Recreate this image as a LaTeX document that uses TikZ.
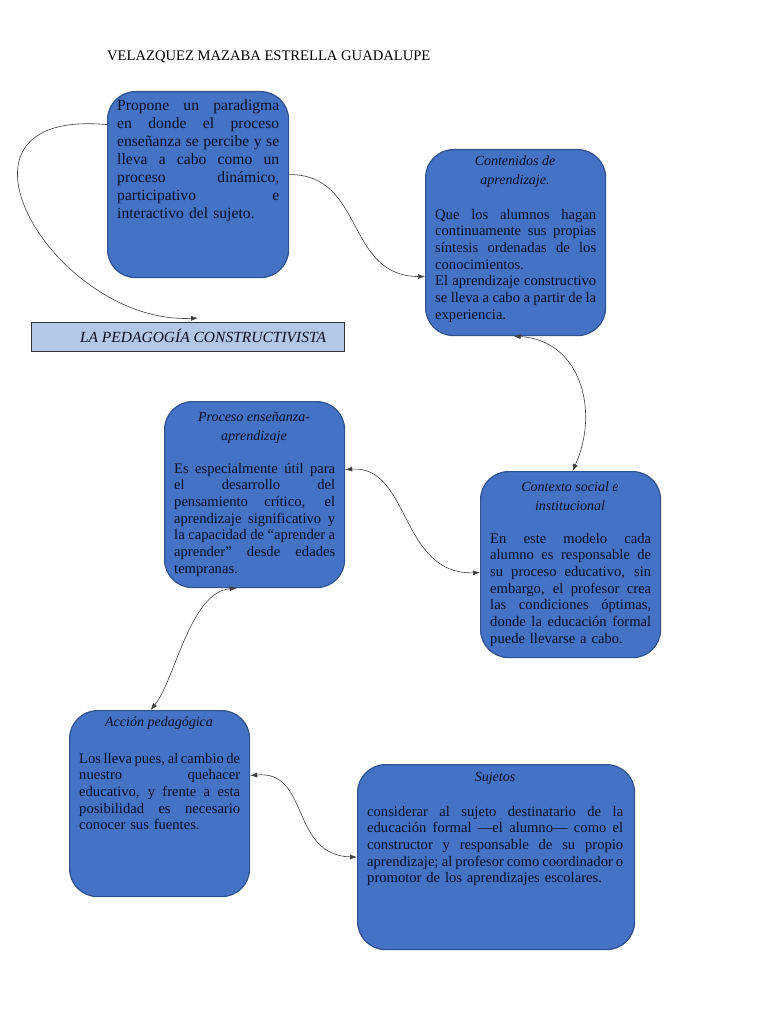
\documentclass[tikz,border=0pt]{standalone}
\usepackage{fontspec}
\setmainfont{Liberation Serif}
\usetikzlibrary{arrows.meta}
\definecolor{boxblue}{HTML}{4472C4}
\definecolor{boxline}{HTML}{2F528F}
\definecolor{titlefill}{HTML}{B4C7E7}
\definecolor{inkc}{HTML}{0B0F26}
\newdimen\jw
\newcommand{\jl}[1]{\leavevmode\hbox to\jw{\spaceskip=0pt\xspaceskip=0pt #1}\\}
\begin{document}
\begin{tikzpicture}[x=1pt,y=-1pt,
  card/.style={draw=boxline, fill=boxblue, line width=1.2pt, rounded corners=28pt, inner sep=0pt, anchor=north west},
  body/.style={anchor=base west, inner sep=0pt, align=left, text=inkc, font=\fontsize{14.6}{16.7}\selectfont},
  ttl/.style={anchor=base, inner sep=0pt, align=center, text=inkc, font=\fontsize{14}{19}\selectfont\itshape},
  link/.style={line width=0.6pt, draw=black!75, -{Latex[length=7pt,width=5pt]}},
  blink/.style={line width=0.6pt, draw=black!75, {Latex[length=7pt,width=5pt]}-{Latex[length=7pt,width=5pt]}}
]
\useasboundingbox[fill=white] (0,0) rectangle (768,1024);

\node[anchor=base west, inner sep=0pt, font=\fontsize{14.6}{16}\selectfont] (hdr) at (107,61) {VELAZQUEZ MAZABA ESTRELLA GUADALUPE};

% boxes
\node[card, minimum width=181pt, minimum height=186pt] (a) at (107,91) {};
\node[card, minimum width=180pt, minimum height=186pt] (b) at (425,149) {};
\node[card, minimum width=180pt, minimum height=186pt] (c) at (164,401) {};
\node[card, minimum width=180pt, minimum height=186pt] (d) at (480,471) {};
\node[card, minimum width=180pt, minimum height=186pt] (e) at (69,710) {};
\node[card, minimum width=277pt, minimum height=185pt] (f) at (357,764) {};

\node[draw=black!80, fill=titlefill, line width=0.9pt, minimum width=313pt, minimum height=29pt, inner sep=0pt, anchor=north west] (t) at (31,322) {};
\node[ttl, font=\fontsize{15.5}{16}\selectfont\itshape] (tt) at (203,342) {LA PEDAGOGÍA CONSTRUCTIVISTA};

% box A text
\node[body, text width=162pt, font=\fontsize{15.6}{18}\selectfont] (atx) at (117,111) {\jw=162pt\jl{Propone un paradigma}\jl{en donde el proceso}\jl{enseñanza se percibe y se}\jl{lleva a cabo como un}\jl{proceso dinámico,}\jl{participativo e}interactivo del sujeto.};

% box B
\node[ttl] (bt) at (515,185) {Contenidos de\\aprendizaje.};
\node[body, text width=161pt] (btx) at (435,219) {\jw=161pt\jl{Que los alumnos hagan}\jl{continuamente sus propias}\jl{síntesis ordenadas de los}conocimientos.\\\jl{El aprendizaje constructivo}\jl{se lleva a cabo a partir de la}experiencia.};

% box C
\node[ttl] (ct) at (254,440) {Proceso enseñanza-\\aprendizaje};
\node[body, text width=161pt] (ctx) at (174,473) {\jw=161pt\jl{Es especialmente útil para}\jl{el desarrollo del}\jl{pensamiento crítico, el}\jl{aprendizaje significativo y}\jl{la capacidad de “aprender a}\jl{aprender” desde edades}tempranas.};

% box D
\node[ttl] (dt) at (570,510) {Contexto social e\\institucional};
\node[body, text width=161pt] (dtx) at (490,543) {\jw=161pt\jl{En este modelo cada}\jl{alumno es responsable de}\jl{su proceso educativo, sin}\jl{embargo, el profesor crea}\jl{las condiciones óptimas,}\jl{donde la educación formal}puede llevarse a cabo.};

% box E
\node[ttl] (et) at (159,726) {Acción pedagógica};
\node[body, text width=161pt] (etx) at (79,763) {\jw=161pt\jl{Los lleva pues, al cambio de}\jl{nuestro quehacer}\jl{educativo, y frente a esta}\jl{posibilidad es necesario}conocer sus fuentes.};

% box F
\node[ttl] (ft) at (495,781) {Sujetos};
\node[body, text width=256pt] (ftx) at (367,816) {\jw=256pt\jl{considerar al sujeto destinatario de la}\jl{educación formal —el alumno— como el}\jl{constructor y responsable de su propio}\jl{aprendizaje; al profesor como coordinador o}promotor de los aprendizajes escolares.};

% connectors
\draw[link] ([yshift=60pt]a.west) .. controls (-75,108) and (55,325) .. ([xshift=10pt,yshift=4pt]t.north);
\draw[link] ([yshift=10pt]a.east) .. controls (365,174) and (345,276) .. ([yshift=-34pt]b.west);
\draw[blink] ([xshift=-2pt]b.south) .. controls (580,340) and (600,410) .. ([xshift=2pt]d.north);
\draw[blink] ([yshift=25pt]c.east) .. controls (410,465) and (400,575) .. ([yshift=-8pt]d.west);
\draw[blink] ([xshift=-18pt]c.south) .. controls (190,592) and (175,680) .. ([xshift=-9pt]e.north);
\draw[blink] ([yshift=28pt]e.east) .. controls (310,770) and (290,855) .. (f.west);
\end{tikzpicture}
\end{document}
